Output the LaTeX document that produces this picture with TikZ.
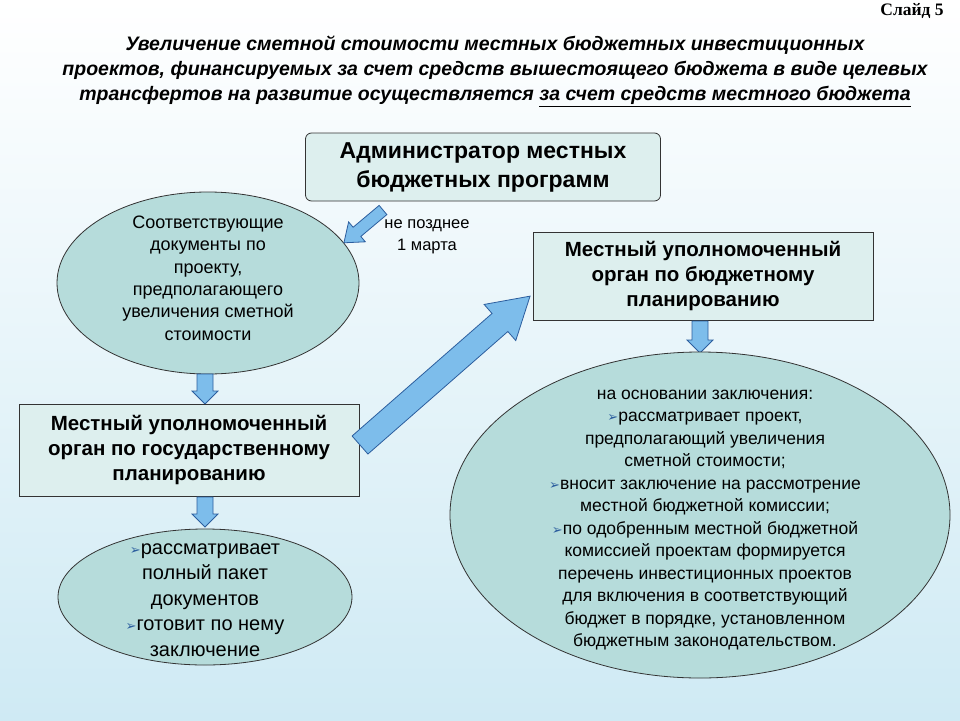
\documentclass[tikz,border=0pt]{standalone}
\usepackage{fontspec}
\setmainfont{Liberation Sans}
\newfontfamily\serifb{Liberation Serif}
\newfontfamily\djvf{DejaVu Sans}
\usetikzlibrary{shapes.geometric}
\definecolor{bgtop}{HTML}{FFFFFF}
\definecolor{bgbot}{HTML}{CFEAF4}
\definecolor{boxf}{HTML}{DDEFEE}
\definecolor{ellf}{HTML}{B6DCDB}
\definecolor{arrf}{HTML}{7DBDEB}
\definecolor{arrd}{HTML}{2C5E9E}
\newcommand{\bl}{{\djvf\color{arrd}\fontsize{13}{13}\selectfont ➢}}
\newcommand{\barr}[7]{\begin{scope}[shift={(#1,#2)},rotate=#3]
 \draw[arrowst] (0,-#5)--(#4-#7,-#5)--(#4-#7,-#6)--(#4,0)--(#4-#7,#6)--(#4-#7,#5)--(0,#5)--cycle;
 \end{scope}}
\tikzset{
 boxn/.style={draw=black!80,fill=boxf,line width=0.8pt,align=center,font=\bfseries\fontsize{20.5}{25}\selectfont},
 elln/.style={ellipse,draw=black!80,fill=ellf,line width=0.8pt,inner sep=0pt},
 etext/.style={align=center,inner sep=0pt},
 arrowst/.style={draw=arrd,fill=arrf,line width=0.8pt,line join=miter},
}
\begin{document}
\begin{tikzpicture}[x=1pt,y=-1pt]
\shade[top color=bgtop,bottom color=bgbot] (0,0) rectangle (960,720);
\useasboundingbox (0,0) rectangle (960,720);
\node[font=\serifb\bfseries\fontsize{17.5}{17.5}\selectfont] (slide) at (912,11) {Слайд 5};
\node[font=\bfseries\itshape\fontsize{19.5}{25}\selectfont,align=center] (title) at (495,71) {Увеличение сметной стоимости местных бюджетных инвестиционных\\проектов, финансируемых за счет средств вышестоящего бюджета в виде целевых\\трансфертов на развитие осуществляется \underline{за счет средств местного бюджета}};
\node[boxn,rounded corners=6pt,minimum width=355pt,minimum height=68pt,font=\bfseries\fontsize{23}{29}\selectfont] (admin) at (483,167) {Администратор местных\\бюджетных программ};
\node[elln,minimum width=302pt,minimum height=182pt] (e1) at (208,283) {};
\node[etext,font=\fontsize{18}{22.4}\selectfont] (t1) at (208,278) {Соответствующие\\документы по\\проекту,\\предполагающего\\увеличения сметной\\стоимости};
\barr{383}{210}{-140}{51}{6}{13}{17}
\node[font=\fontsize{16.5}{22}\selectfont,align=center] (date) at (427,237) {не позднее\\1 марта};
\node[boxn,minimum width=340pt,minimum height=88pt] (right) at (703,276) {Местный уполномоченный\\орган по бюджетному\\планированию};
\barr{700}{321}{-90}{32}{8}{13}{13}
\node[elln,minimum width=500pt,minimum height=326pt] (e2) at (700,515) {};
\node[etext,font=\fontsize{17.5}{22.5}\selectfont] (t2) at (705,520) {на основании заключения:\\\bl рассматривает проект,\\предполагающий увеличения\\сметной стоимости;\\\bl вносит заключение на рассмотрение\\местной бюджетной комиссии;\\\bl по одобренным местной бюджетной\\комиссией проектам формируется\\перечень инвестиционных проектов\\для включения в соответствующий\\бюджет в порядке, установленном\\бюджетным законодательством.};
\barr{205}{374}{-90}{30}{8}{13}{13}
\node[boxn,minimum width=340pt,minimum height=92pt] (left) at (189,450) {Местный уполномоченный\\орган по государственному\\планированию};
\barr{205}{497}{-90}{30}{8}{13}{13}
\node[elln,minimum width=294pt,minimum height=136pt] (e3) at (205,597) {};
\node[etext,font=\fontsize{20}{25.5}\selectfont] (t3) at (205,600) {\bl рассматривает\\полный пакет\\документов\\\bl готовит по нему\\заключение};
\barr{360}{445}{41.2}{226}{12}{24}{40}
\end{tikzpicture}
\end{document}
